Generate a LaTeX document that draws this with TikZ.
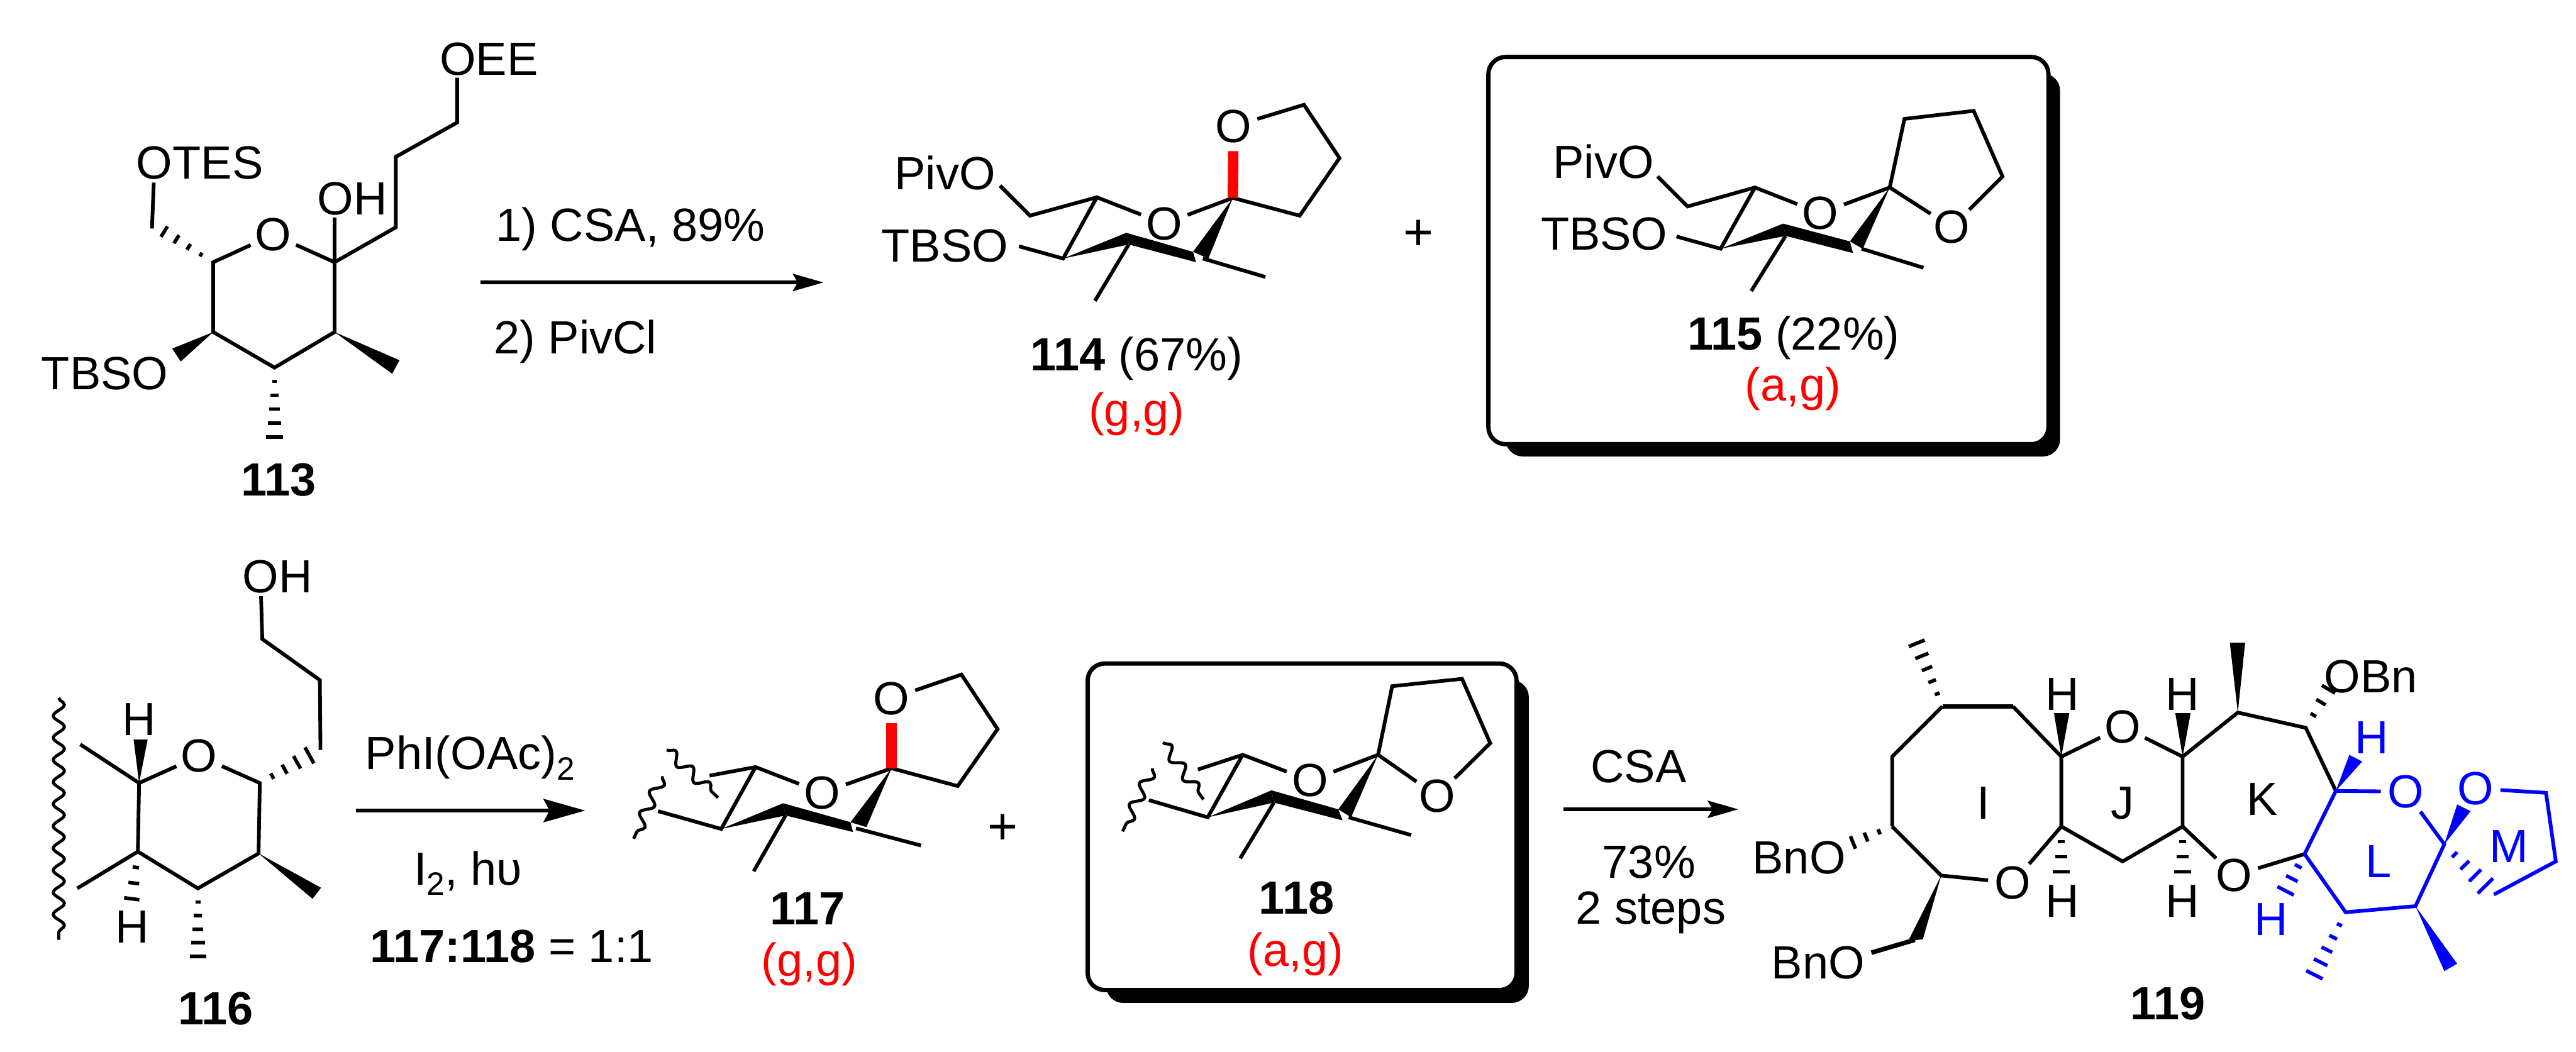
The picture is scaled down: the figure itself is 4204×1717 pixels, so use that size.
\documentclass[tikz,border=0pt]{standalone}
\usepackage{fontspec}
\setmainfont{Liberation Sans}
\usetikzlibrary{calc,arrows.meta,decorations.pathmorphing}
\definecolor{cred}{RGB}{255,0,0}
\definecolor{cblue}{RGB}{0,0,255}
\tikzset{
  lab/.style={inner sep=0pt,font=\fontsize{21.6}{24}\selectfont},
  cmpd/.style={lab,font=\fontsize{21.6}{24}\selectfont\bfseries},
  atomO/.style={circle,minimum size=0.8cm,inner sep=0pt,font=\fontsize{21.6}{24}\selectfont},
  bond/.style={line width=0.06cm,line join=miter,line cap=butt},
  thickbond/.style={line width=0.075cm,line join=miter},
  redbond/.style={cred,line width=0.17cm},
  wavy/.style={line width=0.05cm,decorate,decoration={snake,segment length=#1,amplitude=0.09cm}},
  rxn/.style={line width=0.06cm},
  framebox/.style={draw=black,fill=white,line width=0.07cm,rounded corners=0.28cm},
  shadowbox/.style={fill=black,rounded corners=0.28cm},
}
% [colour]{from}{to}{end width in px}{number of ticks}
\newcommand{\hashb}[5][black]{%
  \foreach \hnum in {1,...,#5}{%
    \pgfmathsetmacro{\hfrac}{\hnum/#5}%
    \pgfmathsetmacro{\hwid}{(0.12+0.88*\hfrac)*#4*0.5*0.2845}%
    \coordinate (hP) at ($(#2)!\hfrac!(#3)$);
    \draw[#1,line width=0.058cm] ($(hP)!\hwid pt!90:(#2)$) -- ($(hP)!\hwid pt!-90:(#2)$);
  }%
}
\newcommand{\sbs}[1]{\raisebox{-0.22em}{\fontsize{15}{15}\selectfont #1}}
\begin{document}
\begin{tikzpicture}[x=0.01cm,y=-0.01cm]
\useasboundingbox[fill=white] (0,0) rectangle (4204,1717);

%% ---------- boxes
\fill[shadowbox] (2457,120) rectangle (3362,745);
\path[framebox] (2429,93) rectangle (3343,725);
\fill[shadowbox] (1805,1110) rectangle (2495,1637);
\path[framebox] (1775,1083) rectangle (2475,1616);

%% ---------- 113
\node[lab] (t13a) at (326,266) {OTES};
\node[lab] (t13b) at (575,324) {OH};
\node[lab] (t13c) at (798,97) {OEE};
\node[lab] (t13d) at (171,610) {TBSO};
\node[cmpd] (n113) at (455,783) {113};
\node[atomO] (o13) at (446,383) {O};
\coordinate (a5) at (348,428); \coordinate (a1) at (546,428);
\coordinate (a2) at (546,542); \coordinate (a3) at (448,600); \coordinate (a4) at (348,542);
\coordinate (ach) at (248,373); \coordinate (ae1) at (251,298); \coordinate (ah) at (268,378);
\coordinate (ae2) at (546,355);
\coordinate (ac1) at (646,371); \coordinate (ac2) at (646,256); \coordinate (ac3) at (746,200); \coordinate (ac4) at (746,127);
\draw[bond] (o13) -- (a5) -- (a4) -- (a3) -- (a2) -- (a1) -- (o13);
\draw[bond] (ae2) -- (a1) -- (ac1) -- (ac2) -- (ac3) -- (ac4);
\draw[bond] (ach) -- (ae1);
\hashb{a5}{ah}{20}{4}
\coordinate (aw1) at (281,569); \coordinate (aw2) at (295,590);
\fill (a4) -- (aw1) -- (aw2) -- cycle;
\coordinate (aw3) at (652,588); \coordinate (aw4) at (640,610);
\fill (a2) -- (aw3) -- (aw4) -- cycle;
\coordinate (ah3) at (448,713);
\hashb{a3}{ah3}{27}{5}

%% ---------- first arrow
\node[lab] (r1a) at (1029,374) {1) CSA, 89\%};
\node[lab] (r1b) at (939,558) {2) PivCl};
\coordinate (ar1s) at (784,461); \coordinate (ar1e) at (1344,461);
\draw[rxn,-{Stealth[length=0.5cm,width=0.28cm,inset=0.08cm]}] (ar1s) -- (ar1e);

%% ---------- 114
\node[lab] (t14a) at (1542,282) {PivO};
\node[lab] (t14b) at (1542,401) {TBSO};
\node[atomO] (o14a) at (1900,365) {O};
\node[atomO] (o14b) at (2013,206) {O};
\node[lab] (n114) at (1855,585) {\bfseries 114\mdseries\ (67\%)};
\node[lab,text=cred] (c114) at (1855,676) {(g,g)};
\coordinate (b1) at (1632,303); \coordinate (b2) at (1681,352); \coordinate (b3) at (1790,322);
\coordinate (bs) at (2012,323); \coordinate (b4) at (1735,422); \coordinate (b5) at (1663,402);
\coordinate (b6) at (1838,380); \coordinate (b7) at (1842,399);
\coordinate (b8) at (1947,411); \coordinate (b9) at (1952,428); \coordinate (b10) at (1972,422);
\coordinate (b11) at (1963,422); \coordinate (b12) at (2065,452); \coordinate (b13) at (1787,491);
\coordinate (b14) at (2128,171); \coordinate (b15) at (2186,258); \coordinate (b16) at (2121,352);
\draw[bond] (b1) -- (b2) -- (b3) -- (o14a) -- (bs) -- (b16) -- (b15) -- (b14) -- (o14b);
\draw[bond] (b3) -- (b4) -- (b5);
\draw[bond] (b11) -- (b12);
\draw[bond] (b7) -- (b13);
\fill (b4) -- (b6) -- (b7) -- cycle;
\fill (b6) -- (b8) -- (b9) -- (b7) -- cycle;
\fill (bs) -- (b8) -- (b10) -- cycle;
\draw[redbond] (bs) -- (o14b);
\node[lab,font=\fontsize{24}{26}\selectfont] (p1) at (2315,384) {+};

%% ---------- 115
\node[lab] (t15a) at (2617,264) {PivO};
\node[lab] (t15b) at (2618,382) {TBSO};
\node[atomO] (o15a) at (2971,348) {O};
\node[atomO] (o15b) at (3185,371) {O};
\node[lab] (n115) at (2927,551) {\bfseries 115\mdseries\ (22\%)};
\node[lab,text=cred] (c115) at (2926,635) {(a,g)};
\coordinate (c1) at (2705,288); \coordinate (c2) at (2754,337); \coordinate (c3) at (2864,306);
\coordinate (cs) at (3084,306); \coordinate (c4) at (2808,406); \coordinate (c5) at (2736,386);
\coordinate (c6) at (2910,365); \coordinate (c7) at (2914,385);
\coordinate (c8) at (3019,394); \coordinate (c9) at (3024,413); \coordinate (c10) at (3040,406);
\coordinate (c11) at (3038,406); \coordinate (c12) at (3139,437); \coordinate (c13) at (2858,475);
\coordinate (c14) at (3108,194); \coordinate (c15) at (3221,181); \coordinate (c16) at (3268,288);
\draw[bond] (c1) -- (c2) -- (c3) -- (o15a) -- (cs) -- (c14) -- (c15) -- (c16) -- (o15b) -- (cs);
\draw[bond] (c3) -- (c4) -- (c5);
\draw[bond] (c11) -- (c12);
\draw[bond] (c7) -- (c13);
\fill (c4) -- (c6) -- (c7) -- cycle;
\fill (c6) -- (c8) -- (c9) -- (c7) -- cycle;
\fill (cs) -- (c8) -- (c10) -- cycle;

%% ---------- 116
\node[lab] (t16a) at (453,941) {OH};
\node[lab] (t16b) at (227,1174) {H};
\node[lab] (t16c) at (216,1513) {H};
\node[atomO] (o16) at (325,1234) {O};
\node[cmpd] (n116) at (352,1646) {116};
\coordinate (d1) at (227,1278); \coordinate (d2) at (424,1278); \coordinate (d3) at (422,1393);
\coordinate (d4) at (323,1450); \coordinate (d5) at (225,1390);
\coordinate (d6) at (131,1215); \coordinate (d7) at (126,1450);
\coordinate (dw1) at (218,1207); \coordinate (dw2) at (241,1207);
\coordinate (dh1) at (215,1467); \coordinate (dh2) at (323,1561); \coordinate (dh3) at (505,1233);
\coordinate (dw3) at (524,1449); \coordinate (dw4) at (510,1467);
\coordinate (dc1) at (523,1224); \coordinate (dc2) at (522,1110); \coordinate (dc3) at (428,1043); \coordinate (dc4) at (426,973);
\coordinate (wv1) at (96,1139); \coordinate (wv2) at (96,1534);
\draw[bond] (o16) -- (d1) -- (d5) -- (d4) -- (d3) -- (d2) -- (o16);
\draw[bond] (d6) -- (d1); \draw[bond] (d5) -- (d7);
\draw[bond] (dc1) -- (dc2) -- (dc3) -- (dc4);
\fill (d1) -- (dw1) -- (dw2) -- cycle;
\fill (d3) -- (dw3) -- (dw4) -- cycle;
\hashb{d5}{dh1}{25}{3}
\hashb{d4}{dh2}{27}{5}
\hashb{d2}{dh3}{30}{4}
\draw[wavy=0.36cm] (wv1) -- (wv2);

%% ---------- second arrow
\node[lab] (r2a) at (767,1237) {PhI(OAc)\sbs{2}};
\node[lab] (r2b) at (764,1425) {I\sbs{2}, hυ};
\node[lab] (r2c) at (835,1545) {\bfseries 117:118\mdseries\ = 1:1};
\coordinate (ar2s) at (581,1323); \coordinate (ar2e) at (955,1323);
\draw[rxn,-{Stealth[length=0.68cm,width=0.38cm,inset=0.1cm]}] (ar2s) -- (ar2e);

%% ---------- 117
\node[atomO] (o17a) at (1342,1294) {O};
\node[atomO] (o17b) at (1455,1140) {O};
\node[cmpd] (n117) at (1318,1483) {117};
\node[lab,text=cred] (c117) at (1321,1574) {(g,g)};
\coordinate (e1) at (1158,1266); \coordinate (e2) at (1233,1252); \coordinate (es) at (1455,1254);
\coordinate (e3) at (1177,1353); \coordinate (e4) at (1074,1324);
\coordinate (e5) at (1278,1311); \coordinate (e6) at (1282,1331);
\coordinate (e7) at (1388,1342); \coordinate (e8) at (1392,1358); \coordinate (e9) at (1414,1350);
\coordinate (e10) at (1397,1352); \coordinate (e11) at (1503,1380); \coordinate (e12) at (1230,1422);
\coordinate (e13) at (1569,1101); \coordinate (e14) at (1628,1190); \coordinate (e15) at (1563,1283);
\coordinate (ev1) at (1088,1224); \coordinate (ev2) at (1172,1302); \coordinate (ev3) at (1081,1267); \coordinate (ev4) at (1034,1369);
\draw[bond] (e1) -- (e2) -- (o17a) -- (es) -- (e15) -- (e14) -- (e13) -- (o17b);
\draw[bond] (e2) -- (e3) -- (e4);
\draw[bond] (e10) -- (e11);
\draw[bond] (e6) -- (e12);
\fill (e3) -- (e5) -- (e6) -- cycle;
\fill (e5) -- (e7) -- (e8) -- (e6) -- cycle;
\fill (es) -- (e7) -- (e9) -- cycle;
\draw[redbond] (es) -- (o17b);
\draw[wavy=0.38cm] (ev1) -- (ev2);
\draw[wavy=0.38cm] (ev3) -- (ev4);
\node[lab,font=\fontsize{24}{26}\selectfont] (p2) at (1637,1354) {+};

%% ---------- 118
\node[atomO] (o18a) at (2138,1274) {O};
\node[atomO] (o18b) at (2345,1299) {O};
\node[cmpd] (n118) at (2116,1466) {118};
\node[lab,text=cred] (c118) at (2114,1557) {(a,g)};
\coordinate (f1) at (1955,1256); \coordinate (f2) at (2028,1232); \coordinate (fs) at (2249,1232);
\coordinate (f3) at (1971,1334); \coordinate (f4) at (1875,1306);
\coordinate (f5) at (2075,1290); \coordinate (f6) at (2079,1310);
\coordinate (f7) at (2184,1321); \coordinate (f8) at (2191,1339); \coordinate (f9) at (2205,1334);
\coordinate (f10) at (2201,1334); \coordinate (f11) at (2303,1363); \coordinate (f12) at (2024,1401);
\coordinate (f13) at (2272,1120); \coordinate (f14) at (2386,1108); \coordinate (f15) at (2432,1213);
\coordinate (fv1) at (1898,1212); \coordinate (fv2) at (1964,1305); \coordinate (fv3) at (1881,1254); \coordinate (fv4) at (1832,1357);
\draw[bond] (f1) -- (f2) -- (o18a) -- (fs) -- (f13) -- (f14) -- (f15) -- (o18b) -- (fs);
\draw[bond] (f2) -- (f3) -- (f4);
\draw[bond] (f10) -- (f11);
\draw[bond] (f6) -- (f12);
\fill (f3) -- (f5) -- (f6) -- cycle;
\fill (f5) -- (f7) -- (f8) -- (f6) -- cycle;
\fill (fs) -- (f7) -- (f9) -- cycle;
\draw[wavy=0.38cm] (fv1) -- (fv2);
\draw[wavy=0.38cm] (fv3) -- (fv4);

%% ---------- third arrow
\node[lab] (r3a) at (2674,1251) {CSA};
\node[lab] (r3b) at (2691,1407) {73\%};
\node[lab] (r3c) at (2694,1490) {2 steps};
\coordinate (ar3s) at (2551,1321); \coordinate (ar3e) at (2837,1321);
\draw[rxn,-{Stealth[length=0.5cm,width=0.28cm,inset=0.08cm]}] (ar3s) -- (ar3e);

%% ---------- 119
\node[atomO] (oi) at (3285,1441) {O};
\node[atomO] (oj) at (3464,1186) {O};
\node[atomO] (ok) at (3646,1429) {O};
\node[atomO,text=cblue] (ol) at (3926,1292) {O};
\node[atomO,text=cblue] (om) at (4040,1287) {O};
\node[lab] (tb1) at (2936,1400) {BnO};
\node[lab] (tb2) at (2967,1571) {BnO};
\node[lab] (tb3) at (3869,1104) {OBn};
\node[lab] (h1) at (3366,1133) {H};
\node[lab] (h2) at (3562,1133) {H};
\node[lab] (h3) at (3366,1471) {H};
\node[lab] (h4) at (3562,1471) {H};
\node[lab,text=cblue] (h5) at (3871,1204) {H};
\node[lab,text=cblue] (h6) at (3706,1501) {H};
\node[lab] (ri) at (3237,1311) {I};
\node[lab] (rj) at (3464,1311) {J};
\node[lab] (rk) at (3692,1305) {K};
\node[lab,text=cblue] (rl) at (3882,1406) {L};
\node[lab,text=cblue] (rm) at (4094,1382) {M};
\node[cmpd] (n119) at (3538,1638) {119};
\coordinate (gA) at (3170,1153); \coordinate (gB) at (3285,1153); \coordinate (gC) at (3364,1235);
\coordinate (gD) at (3364,1349); \coordinate (gE) at (3464,1406); \coordinate (gF) at (3562,1349);
\coordinate (gG) at (3562,1235); \coordinate (gH) at (3652,1163); \coordinate (gI) at (3763,1188);
\coordinate (gJ) at (3812,1291); \coordinate (gK) at (3761,1394); \coordinate (gL) at (3828,1489);
\coordinate (gM) at (3942,1479); \coordinate (gS) at (3989,1378);
\coordinate (gP) at (3168,1429); \coordinate (gQ) at (3088,1349); \coordinate (gR) at (3088,1235);
\coordinate (gT) at (3125,1534); \coordinate (gU) at (3054,1555);
\coordinate (gw1) at (3114,1536); \coordinate (gw2) at (3138,1533);
\coordinate (gme) at (3128,1050); \coordinate (gbn) at (3024,1375); \coordinate (gob) at (3800,1125);
\coordinate (gh1a) at (3352,1164); \coordinate (gh1b) at (3377,1164);
\coordinate (gh2a) at (3550,1164); \coordinate (gh2b) at (3575,1164);
\coordinate (gma) at (3639,1049); \coordinate (gmb) at (3664,1049);
\coordinate (gh3) at (3364,1423); \coordinate (gh4) at (3562,1423);
\coordinate (gn1) at (4155,1294); \coordinate (gn2) at (4171,1406); \coordinate (gn3) at (4070,1460);
\coordinate (gbw1) at (3834,1232); \coordinate (gbw2) at (3855,1243);
\coordinate (gbh1) at (3730,1454); \coordinate (gbh2) at (3777,1591); \coordinate (gbh3) at (4056,1446);
\coordinate (gbw3) at (4010,1573); \coordinate (gbw4) at (3989,1585);
\coordinate (gbw5) at (4010,1313); \coordinate (gbw6) at (4032,1324);
% black rings
\draw[bond] (gQ) -- (gR) -- (gA);
\draw[thickbond] (gA) -- (gB);
\draw[bond] (gB) -- (gC) -- (gD) -- (gE) -- (gF) -- (gG) -- (gH) -- (gI) -- (gJ);
\draw[bond] (gC) -- (oj) -- (gG);
\draw[bond] (gD) -- (oi) -- (gP) -- (gQ);
\draw[bond] (gF) -- (ok) -- (gK);
\draw[thickbond] (gT) -- (gU);
\fill (gP) -- (gw1) -- (gw2) -- cycle;
\fill (gC) -- (gh1a) -- (gh1b) -- cycle;
\fill (gG) -- (gh2a) -- (gh2b) -- cycle;
\fill (gH) -- (gma) -- (gmb) -- cycle;
\hashb{gA}{gme}{28}{5}
\hashb{gQ}{gbn}{22}{3}
\hashb{gI}{gob}{25}{3}
\hashb{gD}{gh3}{27}{3}
\hashb{gF}{gh4}{27}{3}
% blue rings
\draw[bond,cblue] (ol) -- (gJ) -- (gK) -- (gL) -- (gM) -- (gS) -- (ol);
\draw[bond,cblue] (om) -- (gn1) -- (gn2) -- (gn3);
\fill[cblue] (gJ) -- (gbw1) -- (gbw2) -- cycle;
\fill[cblue] (gM) -- (gbw3) -- (gbw4) -- cycle;
\fill[cblue] (gS) -- (gbw5) -- (gbw6) -- cycle;
\hashb[cblue]{gK}{gbh1}{30}{3}
\hashb[cblue]{gL}{gbh2}{30}{5}
\hashb[cblue]{gS}{gbh3}{35}{4}
\end{tikzpicture}
\end{document}
